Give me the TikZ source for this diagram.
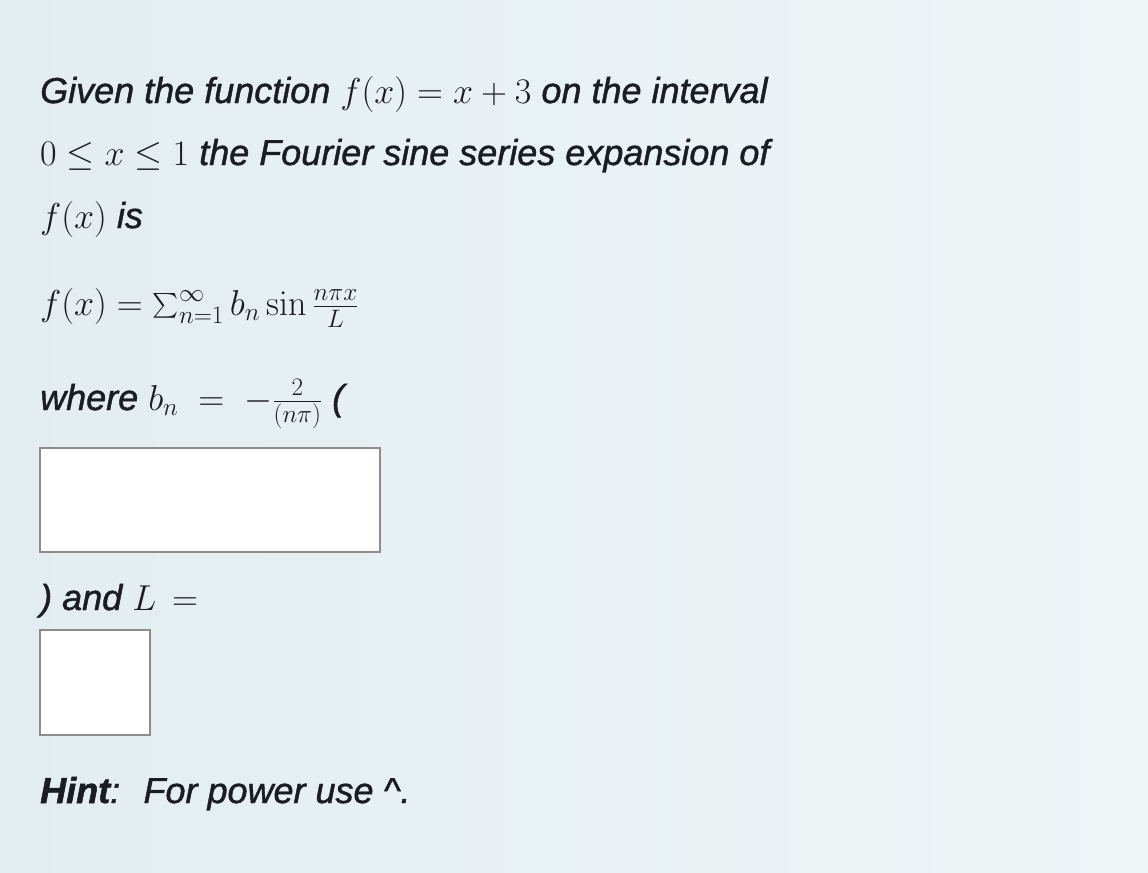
\documentclass[tikz,border=0pt]{standalone}
\usepackage{fix-cm}
\usepackage{amsmath}
\usepackage[no-math]{fontspec}
\setmainfont{Liberation Sans}[ItalicFeatures={FakeBold=1.2},BoldItalicFont={Liberation Sans Bold Italic},BoldItalicFeatures={FakeBold=1.5}]
\definecolor{bgl}{HTML}{E3EDF0}
\definecolor{bgr}{HTML}{EEF5F7}
\definecolor{txt}{HTML}{1A1E22}
\definecolor{boxc}{HTML}{8C8C8C}
\begin{document}
\begin{tikzpicture}[x=1bp,y=-1bp,
  ln/.style={anchor=base west,inner sep=0pt,text=txt,font=\fontsize{36bp}{44bp}\selectfont\itshape},
  ansbox/.style={draw=boxc,line width=2bp,fill=white}]
\path[left color=bgl,right color=bgr] (0,0) rectangle (1148,873);
\useasboundingbox (0,0) rectangle (1148,873);
\node[ln] (l1) at (40,103) {Given the function $f(x)=x+3$ on the interval};
\node[ln] (l2) at (40,165) {$0\le x\le 1$ the Fourier sine series expansion of};
\node[ln] (l3) at (40,228) {$f(x)$ is};
\node[ln] (l4) at (40,315) {$f(x)=\textstyle\sum_{n=1}^{\infty} b_n \sin\frac{n\pi x}{L}$};
\node[ln] (l5) at (40,410) {where $b_n\ =\ -\frac{2}{(n\pi)}$ (};
\draw[ansbox] (40,448) rectangle (380,552);
\node[ln] (l6) at (40,610) {) and $L\,=$};
\draw[ansbox] (40,630) rectangle (150,735);
\node[ln] (l7) at (40,803) {\textbf{Hint}: \ For power use \^{}.};
\end{tikzpicture}
\end{document}
